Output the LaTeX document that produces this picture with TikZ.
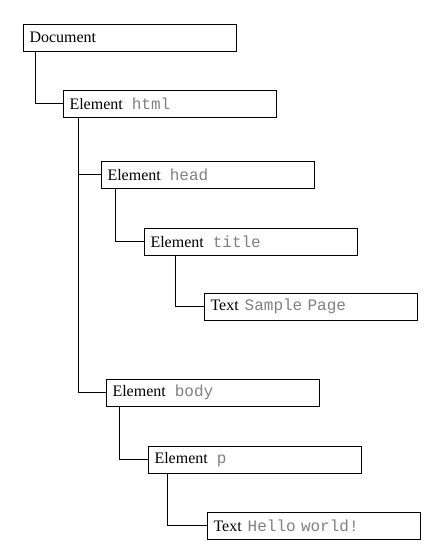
\documentclass[tikz,border=0pt]{standalone}
\usepackage{fontspec}
\setmainfont{Liberation Serif}
\setmonofont{Liberation Mono}
\usepackage{tikz}
\usetikzlibrary{positioning}

\begin{document}
\begin{tikzpicture}[x=1pt,y=1pt,node distance=66pt,on grid]
  \tikzstyle{box}=[draw,line width=0.8pt,minimum width=213pt,minimum height=27pt,
    text width=200pt,inner xsep=6.5pt,align=left,font=\fontsize{16}{18}\selectfont]
  \tikzstyle{link}=[line width=1.5pt]
  \useasboundingbox (0,0) rectangle (446,-555);
  \node[box] (doc) at (129.5,-37.5) {Document};
  \node[box] (html) [below right=66pt and 40pt of doc] {Element\hspace{9pt}\textcolor{black!50}{\texttt{html}}};
  \node[box] (head) [below right=71pt and 38pt of html] {Element\hspace{9pt}\textcolor{black!50}{\texttt{head}}};
  \node[box] (title) [below right=67pt and 43pt of head] {Element\hspace{9pt}\textcolor{black!50}{\texttt{title}}};
  \node[box] (sample) [below right=65pt and 60pt of title] {Text\hspace{6pt}\textcolor{black!50}{\texttt{Sample Page}}};
  \node[box] (body) [below right=289pt and 43pt of html] {Element\hspace{9pt}\textcolor{black!50}{\texttt{body}}};
  \node[box] (p) [below right=67pt and 42pt of body] {Element\hspace{9pt}\textcolor{black!50}{\texttt{p}}};
  \node[box] (hello) [below right=66pt and 59pt of p] {Text\hspace{6pt}\textcolor{black!50}{\texttt{Hello world!}}};
    \draw[link] ([xshift=13pt]doc.south west) |- (html.west);
    \draw[link] ([xshift=16pt]html.south west) |- (head.west);
    \draw[link] ([xshift=16pt]html.south west) |- (body.west);
    \draw[link] ([xshift=15pt]head.south west) |- (title.west);
    \draw[link] ([xshift=32pt]title.south west) |- (sample.west);
    \draw[link] ([xshift=14pt]body.south west) |- (p.west);
    \draw[link] ([xshift=20pt]p.south west) |- (hello.west);
\end{tikzpicture}
\end{document}
